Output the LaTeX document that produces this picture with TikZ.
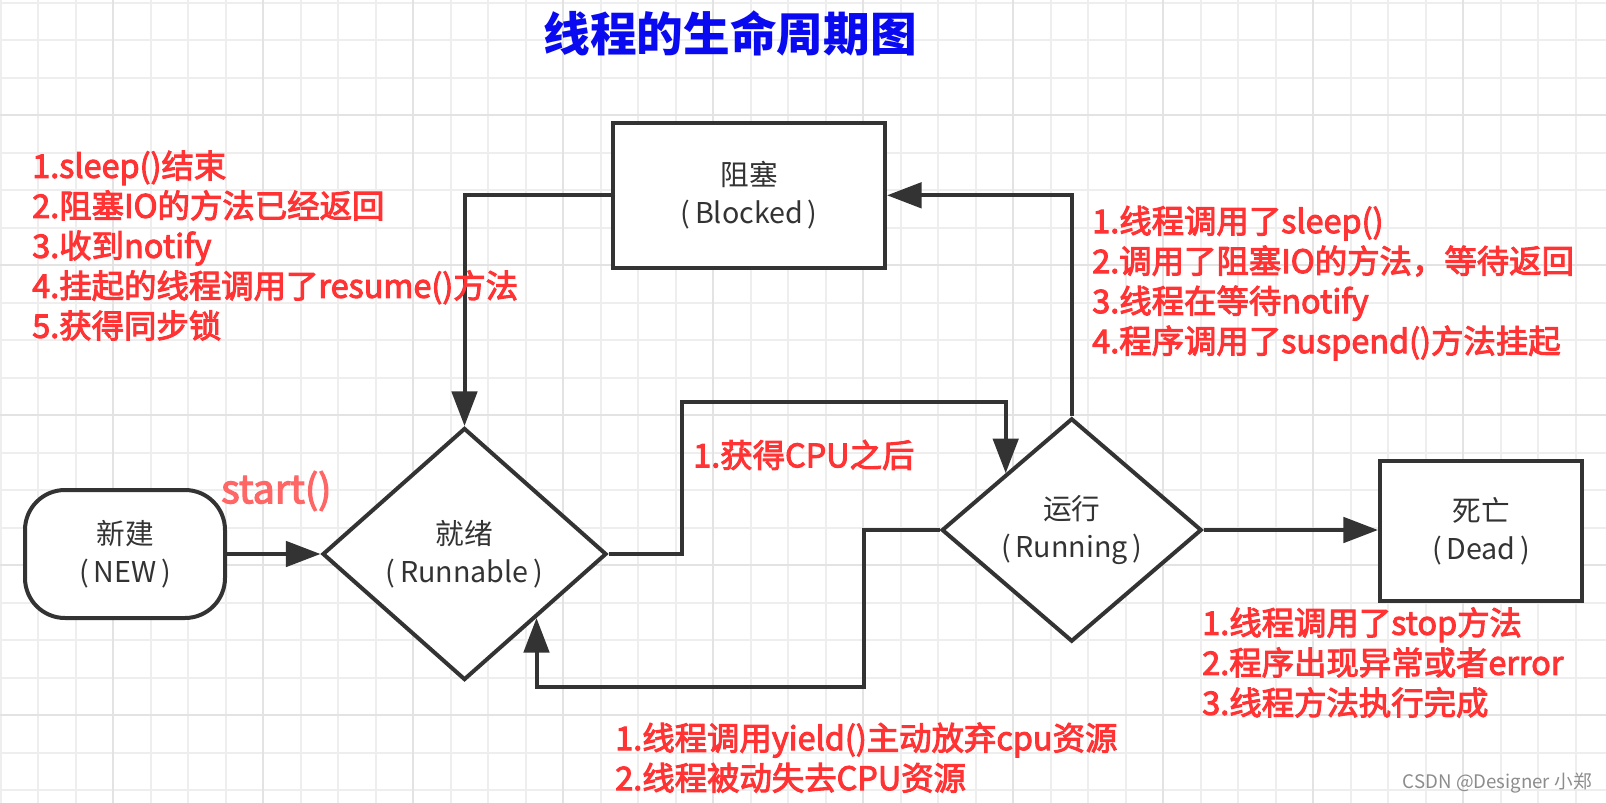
\documentclass[tikz,border=0pt]{standalone}
\usepackage{fontspec}
\setmainfont{Noto Sans CJK SC}
\newfontfamily\medfont[FakeBold=3]{Noto Sans CJK SC}
\usetikzlibrary{shapes.geometric,arrows.meta,calc}
\definecolor{gridminor}{HTML}{EEEEEE}
\definecolor{gridmajor}{HTML}{E3E3E3}
\definecolor{ink}{HTML}{333333}
\definecolor{lblred}{HTML}{FF3333}
\definecolor{startred}{HTML}{FF6666}
\definecolor{titleblue}{HTML}{0A0AF0}
\definecolor{wmgray}{HTML}{8C8C8C}
\newcommand\stl{\rule[-0.12em]{0pt}{1em}}
\begin{document}
\begin{tikzpicture}[x=0.75pt,y=-0.75pt,
  gmin/.style={draw=gridminor, line width=1.5pt},
  gmaj/.style={draw=gridmajor, line width=2pt},
  state/.style={draw=ink, line width=3pt, fill=white, text=ink,
    font=\fontsize{21.5}{28.5}\selectfont, align=center, inner sep=0pt},
  arr/.style={draw=ink, line width=3pt, line join=miter,
    -{Triangle[length=26pt,width=19pt]}},
  lbl/.style={text=lblred, font=\fontsize{24.3}{30}\medfont,
    align=left, inner sep=0pt, anchor=west},
]
\fill[white] (0,0) rectangle (1606,803);
\useasboundingbox (0,0) rectangle (1606,803);
% grid
\foreach \k in {0,...,42} \draw[gmin] ({0.5+37.5*\k},0) -- ({0.5+37.5*\k},803);
\foreach \k in {0,...,21} \draw[gmin] (0,{2.5+37.5*\k}) -- (1606,{2.5+37.5*\k});
\foreach \k in {3,7,...,39} \draw[gmaj] ({0.5+37.5*\k},0) -- ({0.5+37.5*\k},803);
\foreach \k in {3,7,...,19} \draw[gmaj] (0,{2.5+37.5*\k}) -- (1606,{2.5+37.5*\k});

% title
\node[text=titleblue, font=\fontsize{35}{40}\bfseries\selectfont, inner sep=0pt] (title) at (730,33) {线程的生命周期图};

% states
\node[state, rectangle, rounded corners=30pt, minimum width=150pt, minimum height=96pt] (new) at (125,554) {新建\\(\,NEW\,)};
\node[state, diamond, minimum width=213pt, minimum height=189pt] (rbl) at (464.5,554) {就绪\\(\,Runnable\,)};
\node[state, rectangle, minimum width=204pt, minimum height=109pt] (blk) at (749,195.3) {阻塞\\(\,Blocked\,)};
\node[state, diamond, minimum width=195pt, minimum height=167.5pt] (rng) at (1071.7,530) {运行\\(\,Running\,)};
\node[state, rectangle, minimum width=151.5pt, minimum height=105pt] (dead) at (1481,531) {死亡\\(\,Dead\,)};

% connectors
\draw[arr] (new.east) -- (rbl.west);
\draw[arr] (blk.west) -| (rbl.north);
\draw[arr] (rng.north) |- (blk.east);
\draw[arr] (rbl.east) -- ++(73,0) |- ($(rng.north west)+(0,-71.5)$) -- (rng.north west);
\draw[arr] (rng.west) -- ++(-75.7,0) |- ($(rbl.south east)+(0,69)$) -- (rbl.south east);
\draw[arr] (rng.east) -- (rng.east -| dead.west);

% labels
\node[text=startred, font=\fontsize{29.5}{30}\medfont, inner sep=0pt, anchor=west] (lstart) at (221,491) {start()};
\node[lbl] (lwake) at (32,245.5) {\stl 1.sleep()结束\\\stl 2.阻塞IO的方法已经返回\\\stl 3.收到notify\\\stl 4.挂起的线程调用了resume()方法\\\stl 5.获得同步锁};
\node[lbl] (lblock) at (1092,282.5) {\stl 1.线程调用了sleep()\\\stl 2.调用了阻塞IO的方法，等待返回\\\stl 3.线程在等待notify\\\stl 4.程序调用了suspend()方法挂起};
\node[lbl] (lcpu) at (693,455) {\stl 1.获得CPU之后};
\node[lbl] (ldead) at (1202,662.5) {\stl 1.线程调用了stop方法\\\stl 2.程序出现异常或者error\\\stl 3.线程方法执行完成};
\node[lbl] (lyield) at (615,757.75) {\stl 1.线程调用yield()主动放弃cpu资源\\\stl 2.线程被动失去CPU资源};

% watermark
\node[text=wmgray, font=\fontsize{14}{16}\selectfont, inner sep=0pt, anchor=east] (wm) at (1592,783) {CSDN @Designer 小郑};
\end{tikzpicture}
\end{document}
